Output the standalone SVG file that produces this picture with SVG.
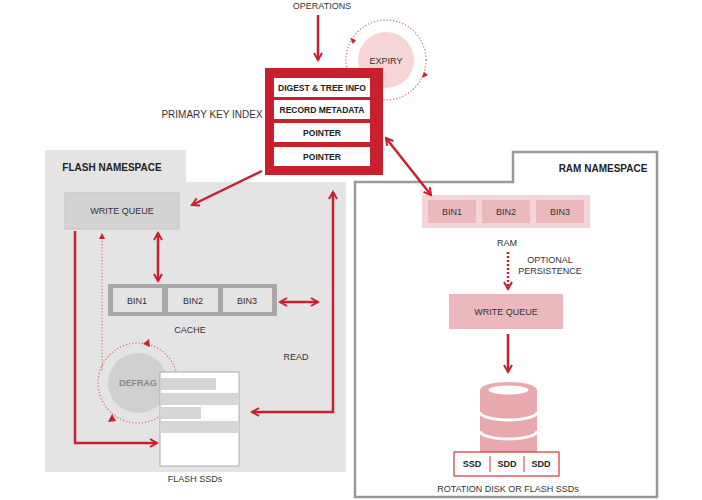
<svg xmlns="http://www.w3.org/2000/svg" width="702" height="500" viewBox="0 0 702 500">
<defs>
<marker id="ah" viewBox="0 0 10 10" refX="8" refY="5" markerWidth="4" markerHeight="4" orient="auto-start-reverse"><path d="M1,1 L8,5 L1,9" fill="none" stroke="#c8202f" stroke-width="2"/></marker>
<marker id="tri" viewBox="0 0 10 10" refX="5" refY="5" markerWidth="5" markerHeight="5" orient="auto"><path d="M0,0 L10,5 L0,10 z" fill="#c8202f"/></marker>
</defs>
<style>
text{font-family:"Liberation Sans",Arial,sans-serif;font-size:9px;fill:#333;text-anchor:middle}
.b{font-weight:bold;fill:#222}
.c{stroke:#c8202f;stroke-width:2.5;fill:none}
.d{stroke:#d66;stroke-width:1.2;fill:none;stroke-dasharray:1.2 2}
</style>
<rect width="702" height="500" fill="#fff"/>
<g id="flash-ns">
<path d="M45,150 H186 V182 H346 V472 H45 Z" fill="#e4e4e4"/>
<text x="112" y="171" class="b" font-size="10" style="font-size:10px">FLASH NAMESPACE</text>
</g>
<g id="ram-ns">
<path d="M355,182 H513 V152 H657 V497 H355 Z" fill="#fff" stroke="#999" stroke-width="2.5"/>
<text x="603" y="172" class="b" style="font-size:10px">RAM NAMESPACE</text>
</g>
<g id="operations"><text x="322" y="9">OPERATIONS</text></g>
<g id="expiry">
<circle cx="386" cy="60" r="28" fill="#f6d5d7"/>
<circle cx="386" cy="60" r="40" class="d"/>
<text x="386" y="64">EXPIRY</text>
</g>
<g id="primary-index">
<rect x="265" y="68" width="118" height="107" fill="#c8202f"/>
<rect x="274" y="78" width="96" height="19" fill="#fff"/>
<rect x="274" y="100" width="96" height="19" fill="#fff"/>
<rect x="274" y="123" width="96" height="19" fill="#fff"/>
<rect x="274" y="147" width="96" height="19" fill="#fff"/>
<text x="322" y="91" class="b" style="font-size:8.5px">DIGEST &amp; TREE INFO</text>
<text x="322" y="113" class="b" style="font-size:8.5px">RECORD METADATA</text>
<text x="322" y="136" class="b" style="font-size:8.5px">POINTER</text>
<text x="322" y="160" class="b" style="font-size:8.5px">POINTER</text>
<text x="212" y="118" style="font-size:10px">PRIMARY KEY INDEX</text>
</g>
<g id="write-queue-flash">
<rect x="65" y="193" width="114" height="36" fill="#d3d3d3" stroke="#c4c4c4"/>
<text x="122" y="214">WRITE QUEUE</text>
</g>
<g id="cache">
<rect x="108" y="284" width="169" height="32" fill="#a8a8a8"/>
<rect x="113" y="288" width="49" height="24" fill="#e3e3e3"/>
<rect x="168" y="288" width="50" height="24" fill="#e3e3e3"/>
<rect x="223" y="288" width="49" height="24" fill="#e3e3e3"/>
<text x="137" y="304">BIN1</text><text x="193" y="304">BIN2</text><text x="247" y="304">BIN3</text>
<text x="190" y="333">CACHE</text>
</g>
<g id="read"><text x="296" y="360">READ</text></g>
<g id="defrag">
<circle cx="138" cy="383" r="30" fill="#d0d0d0"/>
<circle cx="138" cy="383" r="40" class="d"/>
<text x="138" y="386" class="b" style="fill:#888">DEFRAG</text>
</g>
<g id="flash-ssds">
<rect x="160" y="372" width="79" height="94" fill="#fff" stroke="#aaa"/>
<rect x="161" y="378" width="55" height="12" fill="#d6d6d6"/>
<rect x="161" y="393" width="78" height="12" fill="#d6d6d6"/>
<rect x="161" y="407" width="40" height="12" fill="#d6d6d6"/>
<rect x="161" y="421" width="78" height="12" fill="#d6d6d6"/>
<text x="195" y="482">FLASH SSDs</text>
</g>
<g id="ram-bins">
<rect x="422" y="195" width="168" height="33" fill="#f4d4d6"/>
<rect x="428" y="200" width="48" height="23" fill="#ebb9bd"/>
<rect x="482" y="200" width="48" height="23" fill="#ebb9bd"/>
<rect x="536" y="200" width="48" height="23" fill="#ebb9bd"/>
<text x="452" y="215">BIN1</text><text x="506" y="215">BIN2</text><text x="560" y="215">BIN3</text>
<text x="507" y="246">RAM</text>
<text x="550" y="263">OPTIONAL</text>
<text x="550" y="274">PERSISTENCE</text>
</g>
<g id="write-queue-ram">
<rect x="449" y="294" width="114" height="35" fill="#ebb9bd"/>
<text x="506" y="315">WRITE QUEUE</text>
</g>
<g id="disk">
<path d="M480,390 V452 A28.5,8 0 0 0 537,452 V390 Z" fill="#e8a9ae"/>
<ellipse cx="508.5" cy="390" rx="28.5" ry="8" fill="#e8a9ae"/>
<ellipse cx="508.5" cy="390" rx="20" ry="4.5" fill="#fff"/>
<path d="M480,412 A28.5,8 0 0 0 537,412" stroke="#fff" stroke-width="3" fill="none"/>
<path d="M480,431 A28.5,8 0 0 0 537,431" stroke="#fff" stroke-width="3" fill="none"/>
<rect x="454" y="452" width="105" height="24" fill="#fff" stroke="#d33" stroke-width="1.2"/>
<line x1="490" y1="456" x2="490" y2="472" stroke="#d33"/>
<line x1="524" y1="456" x2="524" y2="472" stroke="#d33"/>
<text x="472" y="467" class="b">SSD</text><text x="507" y="467" class="b">SDD</text><text x="541" y="467" class="b">SDD</text>
<text x="508" y="492">ROTATION DISK OR FLASH SSDs</text>
</g>
<g id="connectors">
<line x1="318" y1="15" x2="318" y2="60" class="c" marker-end="url(#ah)"/>
<line x1="262" y1="171" x2="192" y2="205" class="c" marker-end="url(#ah)"/>
<line x1="386" y1="138" x2="431" y2="195" class="c" marker-start="url(#ah)" marker-end="url(#ah)"/>
<line x1="158" y1="233" x2="158" y2="281" class="c" marker-start="url(#ah)" marker-end="url(#ah)"/>
<line x1="280" y1="302" x2="318" y2="302" class="c" marker-start="url(#ah)" marker-end="url(#ah)"/>
<polyline points="333,192 333,412 252,412" class="c" marker-start="url(#ah)" marker-end="url(#ah)"/>
<polyline points="75,231 75,443 157,443" class="c" marker-end="url(#ah)"/>
<line x1="102" y1="370" x2="102" y2="236" class="d" marker-end="url(#tri)"/>
<line x1="508" y1="252" x2="508" y2="289" stroke="#c8202f" stroke-width="2.5" stroke-dasharray="2 2" marker-end="url(#ah)"/>
<line x1="508" y1="334" x2="508" y2="372" class="c" marker-end="url(#ah)"/>
<path d="M356,40 l-6,-2 l3,6 z" fill="#c8202f"/>
<path d="M424,72 l-2,6 l6,-3 z" fill="#c8202f"/>
<path d="M150,347 l-7,-3 l6,-5 z" fill="#c8202f"/>
<path d="M112,414 l-4,8 l8,-1 z" fill="#c8202f"/>
</g>
</svg>
